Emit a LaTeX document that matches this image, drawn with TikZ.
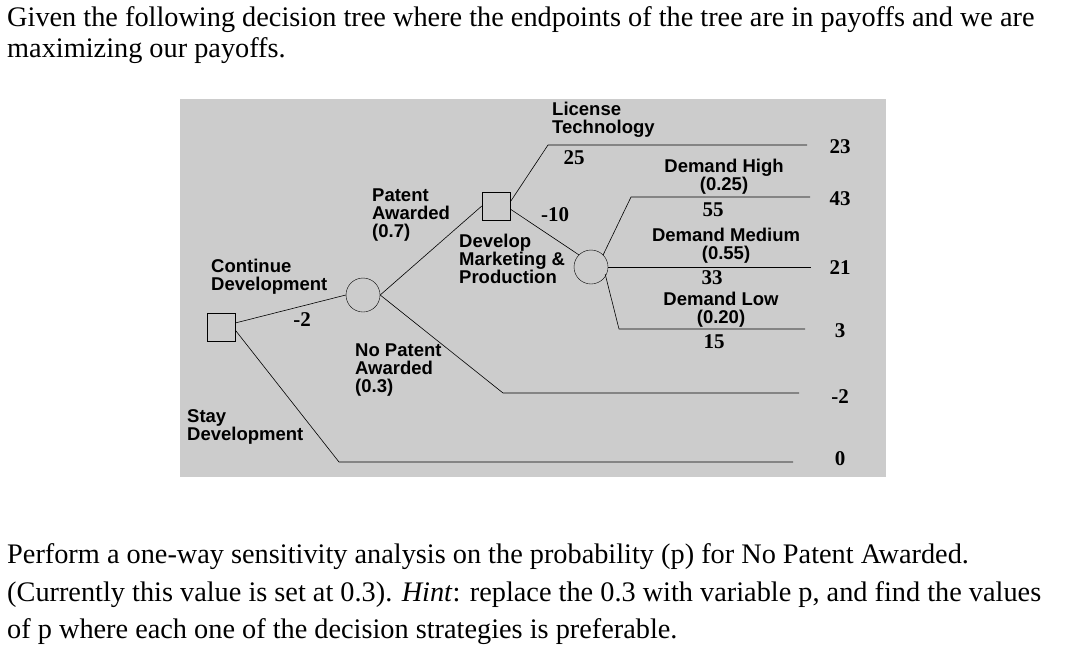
\documentclass[tikz,border=0pt]{standalone}
\usepackage{fontspec}
\setmainfont{Liberation Serif}
\newfontfamily\arialf{Liberation Sans}
\begin{document}
\begin{tikzpicture}[x=1pt,y=-1pt,
  lbl/.style={font=\arialf\bfseries\fontsize{18.5}{18}\selectfont,align=left,inner sep=0pt},
  clbl/.style={font=\arialf\bfseries\fontsize{18.5}{18}\selectfont,align=center,inner sep=0pt},
  num/.style={font=\bfseries\fontsize{21}{21}\selectfont,inner sep=0pt},
  txt/.style={font=\fontsize{28.3}{30}\selectfont,anchor=west,inner sep=0pt},
  dec/.style={draw,fill=gray!40!white,minimum size=28pt,inner sep=0pt},
  chn/.style={draw,circle,fill=gray!40!white,minimum size=34pt,inner sep=0pt},
  br/.style={line width=0.6pt}]
\useasboundingbox (0,0) rectangle (1070,657);
\fill[white] (0,0) rectangle (1070,657);
\fill[gray!40!white] (180,99) rectangle (886,477);
\node[txt] (t1) at (7,20) {Given the following decision tree where the endpoints of the tree are in payoffs and we are};
\node[txt] (t2) at (7,51) {maximizing our payoffs.};
\node[txt] (t3) at (7,557) {Perform a one-way sensitivity analysis on the probability (p) for No Patent Awarded.};
\node[txt] (t4) at (7,595) {(Currently this value is set at 0.3). \textit{Hint}: replace the 0.3 with variable p, and find the values};
\node[txt] (t5) at (7,632) {of p where each one of the decision strategies is preferable.};
% nodes
\node[dec] (d1) at (221,327) {};
\node[chn] (c1) at (363,295) {};
\node[dec] (d2) at (496,206) {};
\node[chn] (c2) at (591,267) {};
\coordinate (lt) at (548,145); \coordinate (lte) at (807,145);
\coordinate (dh) at (631,197); \coordinate (dhe) at (810,197);
\coordinate (dme) at (811,267);
\coordinate (dl) at (619,329); \coordinate (dle) at (805,329);
\coordinate (np) at (503,393); \coordinate (npe) at (799,393);
\coordinate (sd) at (339,462); \coordinate (sde) at (793,462);
\draw[br] (d1.east) ++(0,-4) -- (c1.west);
\draw[br] (d1.east) ++(0,3) -- (sd) -- (sde);
\draw[br] (c1.east) -- (d2.west);
\draw[br] (c1.east) -- (np) -- (npe);
\draw[br] (d2.east) ++(0,-4) -- (lt) -- (lte);
\draw[br] (d2.east) ++(0,3) -- (c2.north west);
\draw[br] (c2.north east) -- (dh) -- (dhe);
\draw[br] (c2.east) -- (dme);
\draw[br] (c2.south east) ++(2,-5) -- (dl) -- (dle);
% labels
\node[lbl,anchor=north west] (l1) at (552,102) {License\\Technology};
\node[num] (n25) at (574,158) {25};
\node[clbl] (l2) at (724,177) {Demand High\\(0.25)};
\node[num] (n55) at (713,210) {55};
\node[clbl] (l3) at (726,246) {Demand Medium\\(0.55)};
\node[num] (n33) at (712,278) {33};
\node[clbl] (l4) at (721,310) {Demand Low\\(0.20)};
\node[num] (n15) at (714,342) {15};
\node[lbl,anchor=north west] (l5) at (372,189) {Patent\\Awarded\\(0.7)};
\node[num] (n10) at (555,215) {-10};
\node[lbl,anchor=north west] (l6) at (459,234) {Develop\\Marketing \&\\Production};
\node[lbl,anchor=north west] (l7) at (211,259) {Continue\\Development};
\node[num] (n2) at (302,320) {-2};
\node[lbl,anchor=north west] (l8) at (355,344) {No Patent\\Awarded\\(0.3)};
\node[lbl,anchor=north west] (l9) at (187,409) {Stay\\Development};
\node[num] (p1) at (840,147) {23};
\node[num] (p2) at (840,199) {43};
\node[num] (p3) at (840,268) {21};
\node[num] (p4) at (840,331) {3};
\node[num] (p5) at (840,397) {-2};
\node[num] (p6) at (840,459) {0};
\end{tikzpicture}
\end{document}
